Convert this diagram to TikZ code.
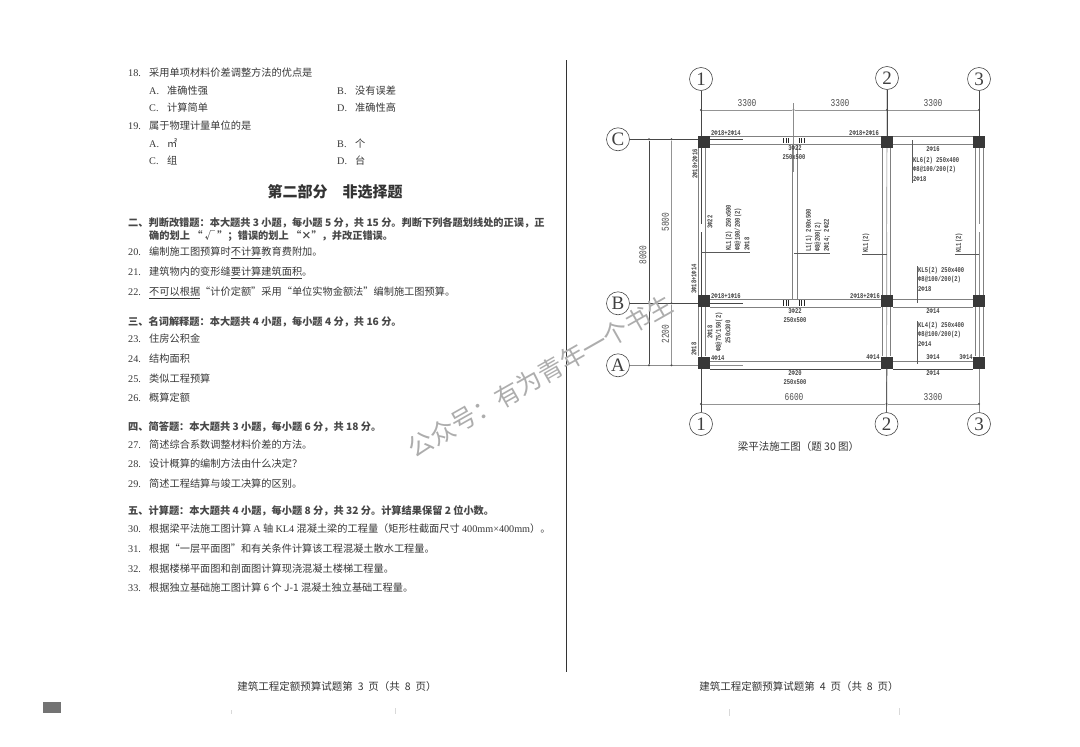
\documentclass[tikz,border=0pt]{standalone}
\usepackage{fontspec}
\setmainfont{Liberation Serif}
\newfontfamily\cjk{Noto Sans CJK SC}
\newfontfamily\drawfont[FakeStretch=0.75]{Liberation Mono}
\newcommand{\qnum}[1]{\makebox[21pt][l]{\rmfamily #1}}
\newcommand{\qopt}[1]{\makebox[18pt][l]{\rmfamily #1}}
\begin{document}
\begin{tikzpicture}[
        x=1pt, y=-1pt,
        qline/.style={anchor=west, inner sep=0pt, text=black!78, font=\cjk\fontsize{10.2}{12}\selectfont},
        qhead/.style={qline, text=black!72, font=\cjk\bfseries\fontsize{10.2}{12}\selectfont},
        parttitle/.style={inner sep=0pt, text=black!80, font=\cjk\bfseries\fontsize{15}{18}\selectfont},
        foot/.style={inner sep=0pt, text=black!80, font=\cjk\fontsize{10.5}{12}\selectfont},
        wmark/.style={inner sep=0pt, rotate=29.6, text=black!32, font=\cjk\fontsize{25}{30}\selectfont},
        bubble/.style={circle, draw=black!70, line width=0.6pt, fill=white, minimum size=23pt, inner sep=0pt, text=black!75, font=\rmfamily\fontsize{19}{19}\selectfont},
        column/.style={rectangle, fill=black!78, minimum size=12pt, inner sep=0pt},
        dimtick/.style={circle, fill=black!70, minimum size=2.2pt, inner sep=0pt},
        axisline/.style={draw=black!72, line width=0.7pt},
        axislight/.style={draw=black!45, line width=0.7pt},
        axisgap/.style={draw=white, line width=1pt},
        dimline/.style={draw=black!42, line width=0.8pt},
        beam/.style={draw=black!50, line width=0.7pt},
        leader/.style={draw=black!65, line width=0.6pt},
        stirrup/.style={draw=black!85, line width=5.6pt, dash pattern=on 1.4pt off 1.1pt},
        speck/.style={draw=black!15, line width=0.6pt},
        rebar/.style={inner sep=0pt, text=black!72, font=\drawfont\bfseries\fontsize{7.3}{8}\selectfont},
        rebarw/.style={rebar, anchor=west},
        rebarv/.style={rebar, rotate=90},
        rebarup/.style={rebar, rotate=90, anchor=west},
        dimtext/.style={inner sep=0pt, text=black!68, font=\drawfont\fontsize{10.5}{11}\selectfont}
    ]
    \useasboundingbox (0,0) rectangle (1080,747);
    \fill[white] (0,0) rectangle (1080,747);

    \node[qline] (q18) at (128,73) {\qnum{18.}采用单项材料价差调整方法的优点是};
    \node[qline] (q18a) at (149,90.5) {\qopt{A.}准确性强};
    \node[qline] (q18b) at (337,90.5) {\qopt{B.}没有误差};
    \node[qline] (q18c) at (149,108) {\qopt{C.}计算简单};
    \node[qline] (q18d) at (337,108) {\qopt{D.}准确性高};
    \node[qline] (q19) at (128,126) {\qnum{19.}属于物理计量单位的是};
    \node[qline] (q19a) at (149,143.5) {\qopt{A.}㎡};
    \node[qline] (q19b) at (337,143.5) {\qopt{B.}个};
    \node[qline] (q19c) at (149,161) {\qopt{C.}组};
    \node[qline] (q19d) at (337,161) {\qopt{D.}台};
    \node[parttitle] (part2) at (335,192) {第二部分\hspace{15pt}非选择题};
    \node[qhead] (sec2) at (128,222.7) {二、判断改错题：本大题共 3 小题，每小题 5 分，共 15 分。判断下列各题划线处的正误，正};
    \node[qhead] (sec2b) at (149,235.6) {确的划上 “ √ ”；错误的划上 “×”，并改正错误。};
    \node[qline] (q20) at (128,253) {\qnum{20.}编制施工图预算时\underline{不计算}教育费附加。};
    \node[qline] (q21) at (128,273) {\qnum{21.}建筑物内的变形缝\underline{要计算建筑面积}。};
    \node[qline] (q22) at (128,293) {\qnum{22.}\underline{不可以根据}“计价定额”采用“单位实物金额法”编制施工图预算。};
    \node[qhead] (sec3) at (128,321.7) {三、名词解释题：本大题共 4 小题，每小题 4 分，共 16 分。};
    \node[qline] (q23) at (128,339) {\qnum{23.}住房公积金};
    \node[qline] (q24) at (128,359) {\qnum{24.}结构面积};
    \node[qline] (q25) at (128,378.7) {\qnum{25.}类似工程预算};
    \node[qline] (q26) at (128,398) {\qnum{26.}概算定额};
    \node[qhead] (sec4) at (128,426.7) {四、简答题：本大题共 3 小题，每小题 6 分，共 18 分。};
    \node[qline] (q27) at (128,445) {\qnum{27.}简述综合系数调整材料价差的方法。};
    \node[qline] (q28) at (128,464) {\qnum{28.}设计概算的编制方法由什么决定？};
    \node[qline] (q29) at (128,484) {\qnum{29.}简述工程结算与竣工决算的区别。};
    \node[qhead] (sec5) at (128,511) {五、计算题：本大题共 4 小题，每小题 8 分，共 32 分。计算结果保留 2 位小数。};
    \node[qline] (q30) at (128,529) {\qnum{30.}根据梁平法施工图计算 {\rmfamily A} 轴 {\rmfamily KL4} 混凝土梁的工程量（矩形柱截面尺寸 {\rmfamily 400mm×400mm}）。};
    \node[qline] (q31) at (128,549) {\qnum{31.}根据“一层平面图”和有关条件计算该工程混凝土散水工程量。};
    \node[qline] (q32) at (128,568.7) {\qnum{32.}根据楼梯平面图和剖面图计算现浇混凝土楼梯工程量。};
    \node[qline] (q33) at (128,588) {\qnum{33.}根据独立基础施工图计算 6 个 J-1 混凝土独立基础工程量。};
    \node[foot] (foot3) at (337,687) {建筑工程定额预算试题第\hspace{2.5pt} 3 \hspace{2.5pt}页（共\hspace{2.5pt} 8 \hspace{2.5pt}页）};
    \node[foot] (foot4) at (799,687) {建筑工程定额预算试题第\hspace{2.5pt} 4 \hspace{2.5pt}页（共\hspace{2.5pt} 8 \hspace{2.5pt}页）};
    \node[rectangle, fill=black!55, minimum width=18pt, minimum height=11pt, inner sep=0pt] (stamp) at (52,707.5) {};
    \draw[speck] (231,710) -- (231,714);
    \draw[speck] (395,708) -- (395,714);
    \draw[speck] (729,709) -- (729,716);
    \draw[speck] (899,708) -- (899,715);

    \coordinate (foldt) at (566,60);
    \coordinate (foldb) at (566,672);
    \draw[draw=black!80, line width=0.8pt] (foldt) -- (foldb);

    \node[bubble] (a1t) at (701,79) {1};
    \node[bubble] (a2t) at (887,78) {2};
    \node[bubble] (a3t) at (979,79) {3};
    \node[bubble] (a1b) at (701,424) {1};
    \node[bubble] (a2b) at (886.5,424) {2};
    \node[bubble] (a3b) at (979,424) {3};
    \node[bubble] (aC) at (618,139.3) {C};
    \node[bubble] (aB) at (618,303.3) {B};
    \node[bubble] (aA) at (618,365.3) {A};

    \draw[axisline] (a1t) -- (a1b);
    \draw[axislight] (a2t) -- (a2b);
    \draw[axislight] (a3t) -- (a3b);

    \coordinate (g1a) at (701,224);
    \coordinate (g1b) at (701,232);
    \coordinate (g2a) at (887,224);
    \coordinate (g2b) at (887,232);
    \coordinate (g3a) at (979,224);
    \coordinate (g3b) at (979,232);
    \draw[axisgap] (g1a) -- (g1b);
    \draw[axisgap] (g2a) -- (g2b);
    \draw[axisgap] (g3a) -- (g3b);

    \coordinate (endC) at (742.7,139.3);
    \coordinate (endB) at (742.7,303.3);
    \coordinate (endA) at (742.7,365.3);
    \draw[axisline] (aC) -- (endC);
    \draw[axisline] (aB) -- (endB);
    \draw[axislight] (aA) -- (endA);

    \node[dimtick] (dt1) at (701,110) {};
    \node[dimtick] (dtL) at (793.5,110) {};
    \node[dimtick] (dt2) at (887,110) {};
    \node[dimtick] (dt3) at (979,110) {};
    \node[dimtick] (db1) at (701,404) {};
    \node[dimtick] (db2) at (886.5,404) {};
    \node[dimtick] (db3) at (979,404) {};
    \node[dimtick] (o8C) at (649,139.3) {};
    \node[dimtick] (o8A) at (649,365.3) {};
    \node[dimtick] (o5C) at (671.5,139.3) {};
    \node[dimtick] (o5B) at (671.5,303.3) {};
    \node[dimtick] (o5A) at (671.5,365.3) {};
    \coordinate (Lt) at (793.5,103);
    \coordinate (Lm) at (793.5,172);
    \draw[dimline] (dt1) -- (dtL);
    \draw[dimline] (dtL) -- (dt2);
    \draw[dimline] (dt2) -- (dt3);
    \draw[dimline] (db1) -- (db2);
    \draw[dimline] (db2) -- (db3);
    \draw[axisline] (o8C) -- (o8A);
    \draw[dimline] (o5C) -- (o5B);
    \draw[dimline] (o5B) -- (o5A);
    \draw[axislight] (Lt) -- (Lm);

    \node[column] (cC1) at (704,142) {};
    \node[column] (cC2) at (887,142) {};
    \node[column] (cC3) at (979,142) {};
    \node[column] (cB1) at (704,301) {};
    \node[column] (cB2) at (887,301) {};
    \node[column] (cB3) at (979,301) {};
    \node[column] (cA1) at (704,362.5) {};
    \node[column] (cA2) at (887,362.5) {};
    \node[column] (cA3) at (979,362.5) {};

    \draw[axisline] (a2t) -- (cC2);
    \draw[axisline] (a3t) -- (cC3);
    \draw[axisline] (a2b) -- (cA2);

    \draw[beam] ([yshift=-1pt]cC1.north east) -- ([yshift=-1pt]cC2.north west);
    \draw[beam] ([yshift=-1pt]cC2.north east) -- ([yshift=-1pt]cC3.north west);
    \draw[beam] ([yshift=4.3pt]cC1.south east) -- ([yshift=4.3pt]cC2.south west);
    \draw[beam] ([yshift=4.3pt]cC2.south east) -- ([yshift=4.3pt]cC3.south west);
    \draw[beam] ([yshift=-5pt]cB1.north east) -- ([yshift=-5pt]cB2.north west);
    \draw[beam] ([yshift=-5pt]cB2.north east) -- ([yshift=-5pt]cB3.north west);
    \draw[beam] ([yshift=0.3pt]cB1.south east) -- ([yshift=0.3pt]cB2.south west);
    \draw[beam] ([yshift=0.3pt]cB2.south east) -- ([yshift=0.3pt]cB3.south west);
    \draw[beam] ([yshift=-5.2pt]cA1.north east) -- ([yshift=-5.2pt]cA2.north west);
    \draw[beam] ([yshift=-5.2pt]cA2.north east) -- ([yshift=-5.2pt]cA3.north west);
    \draw[axisline] ([yshift=-.3pt]cA1.south east) -- ([yshift=-.3pt]cA2.south west);
    \draw[axisline] ([yshift=-.3pt]cA2.south east) -- ([yshift=-.3pt]cA3.south west);

    \draw[beam] ([xshift=.3pt]cC1.south west) -- ([xshift=.3pt]cB1.north west);
    \draw[beam] ([xshift=-4.5pt]cC1.south east) -- ([xshift=-4.5pt]cB1.north east);
    \draw[beam] ([xshift=.3pt]cB1.south west) -- ([xshift=.3pt]cA1.north west);
    \draw[beam] ([xshift=-4.5pt]cB1.south east) -- ([xshift=-4.5pt]cA1.north east);
    \draw[beam] ([xshift=2pt]cC2.south west) -- ([xshift=2pt]cB2.north west);
    \draw[beam] ([xshift=-2.7pt]cC2.south east) -- ([xshift=-2.7pt]cB2.north east);
    \draw[beam] ([xshift=2pt]cB2.south west) -- ([xshift=2pt]cA2.north west);
    \draw[beam] ([xshift=-2.7pt]cB2.south east) -- ([xshift=-2.7pt]cA2.north east);
    \draw[beam] ([xshift=2.7pt]cC3.south west) -- ([xshift=2.7pt]cB3.north west);
    \draw[beam] ([xshift=-2.3pt]cC3.south east) -- ([xshift=-2.3pt]cB3.north east);
    \draw[beam] ([xshift=2.7pt]cB3.south west) -- ([xshift=2.7pt]cA3.north west);
    \draw[beam] ([xshift=-2.3pt]cB3.south east) -- ([xshift=-2.3pt]cA3.north east);

    \coordinate (L1t) at (794.5,143.7);
    \coordinate (L1b) at (794.5,300);
    \draw[beam] ([xshift=-2.5pt]L1t) -- ([xshift=-2.5pt]L1b);
    \draw[beam] ([xshift=2.5pt]L1t) -- ([xshift=2.5pt]L1b);

    \coordinate (s1a) at (783,140.3);
    \coordinate (s1b) at (790,140.3);
    \coordinate (s2a) at (798.5,140.3);
    \coordinate (s2b) at (805.5,140.3);
    \coordinate (s3a) at (783,303);
    \coordinate (s3b) at (790,303);
    \coordinate (s4a) at (798.5,303);
    \coordinate (s4b) at (805.5,303);
    \draw[stirrup] (s1a) -- (s1b);
    \draw[stirrup] (s2a) -- (s2b);
    \draw[stirrup] (s3a) -- (s3b);
    \draw[stirrup] (s4a) -- (s4b);

    \coordinate (k1a) at (701,252);
    \coordinate (k1b) at (750,252);
    \coordinate (l1a) at (794,253.5);
    \coordinate (l1b) at (830,253.5);
    \coordinate (k2a) at (862,254);
    \coordinate (k2b) at (887,254);
    \coordinate (k3a) at (955,254);
    \coordinate (k3b) at (979,254);
    \coordinate (k6a) at (912,140);
    \coordinate (k6b) at (912,183);
    \coordinate (k5a) at (917,266);
    \coordinate (k5b) at (917,303);
    \coordinate (k4a) at (917,321);
    \coordinate (k4b) at (917,364);
    \draw[leader] (k1a) -- (k1b);
    \draw[leader] (l1a) -- (l1b);
    \draw[leader] (k2a) -- (k2b);
    \draw[leader] (k3a) -- (k3b);
    \draw[leader] (k6a) -- (k6b);
    \draw[leader] (k5a) -- (k5b);
    \draw[leader] (k4a) -- (k4b);

    \node[dimtext] (d3300a) at (747,103) {3300};
    \node[dimtext] (d3300b) at (840,103) {3300};
    \node[dimtext] (d3300c) at (933,103) {3300};
    \node[dimtext] (d6600) at (794,397) {6600};
    \node[dimtext] (d3300d) at (933,397) {3300};
    \node[dimtext, rotate=90] (d8000) at (643,255) {8000};
    \node[dimtext, rotate=90] (d5800) at (665.5,222) {5800};
    \node[dimtext, rotate=90] (d2200) at (665.5,334) {2200};

    \node[rebarw] (tC1) at (711,133) {2Φ18+2Φ14};
    \node[rebar] (tC2) at (864,133) {2Φ18+2Φ16};
    \node[rebar] (tC3) at (795,148) {3Φ22};
    \node[rebar] (tC4) at (794,157) {250x500};
    \node[rebar] (tC5) at (933,149) {2Φ16};
    \node[rebarw] (k6t1) at (913,161) {KL6(2) 250x400};
    \node[rebarw] (k6t2) at (913,170) {Φ8@100/200(2)};
    \node[rebarw] (k6t3) at (913,179) {2Φ18};
    \node[rebarv] (v1a) at (695,164) {2Φ18+2Φ16};
    \node[rebarv] (v1b) at (710,222) {3Φ22};
    \node[rebarup] (k1t1) at (729,251) {KL1(2) 250x500};
    \node[rebarup] (k1t2) at (738,251) {Φ8@100/200(2)};
    \node[rebarup] (k1t3) at (747,251) {2Φ18};
    \node[rebarup] (l1t1) at (809,252) {L1(1) 200x500};
    \node[rebarup] (l1t2) at (818,252) {Φ8@200(2)};
    \node[rebarup] (l1t3) at (827,252) {2Φ14; 2Φ22};
    \node[rebarup] (k2t) at (866,253) {KL1(2)};
    \node[rebarup] (k3t) at (959,253) {KL1(2)};
    \node[rebarw] (k5t1) at (918,271) {KL5(2) 250x400};
    \node[rebarw] (k5t2) at (918,280) {Φ8@100/200(2)};
    \node[rebarw] (k5t3) at (918,289) {2Φ18};
    \node[rebarv] (v2a) at (694,279) {3Φ18+1Φ14};
    \node[rebarw] (tB1) at (711,296) {2Φ18+1Φ16};
    \node[rebar] (tB2) at (865,296) {2Φ18+2Φ16};
    \node[rebar] (tB3) at (795,311) {3Φ22};
    \node[rebar] (tB4) at (795,320) {250x500};
    \node[rebar] (tB5) at (933,311) {2Φ14};
    \node[rebarw] (k4t1) at (918,326) {KL4(2) 250x400};
    \node[rebarw] (k4t2) at (918,335) {Φ8@100/200(2)};
    \node[rebarw] (k4t3) at (918,344) {2Φ14};
    \node[rebarv] (v3a) at (710,332) {2Φ18};
    \node[rebarv] (v3b) at (719,332) {Φ8@75/150(2)};
    \node[rebarv] (v3c) at (728,332) {250x300};
    \node[rebarv] (v3d) at (694,349) {2Φ18};
    \node[rebarw] (tA1) at (711,358) {4Φ14};
    \node[rebar] (tA2) at (873,357) {4Φ14};
    \node[rebar] (tA3) at (933,357) {3Φ14};
    \node[rebar] (tA4) at (966,357) {3Φ14};
    \node[rebar] (tA5) at (795,373) {2Φ20};
    \node[rebar] (tA6) at (795,382) {250x500};
    \node[rebar] (tA7) at (933,373) {2Φ14};

    \node[foot] (caption) at (798.5,447) {梁平法施工图（题 30 图）};
    \node[wmark] (water) at (540,376) {公众号：有为青年一个书生};
\end{tikzpicture}
\end{document}
